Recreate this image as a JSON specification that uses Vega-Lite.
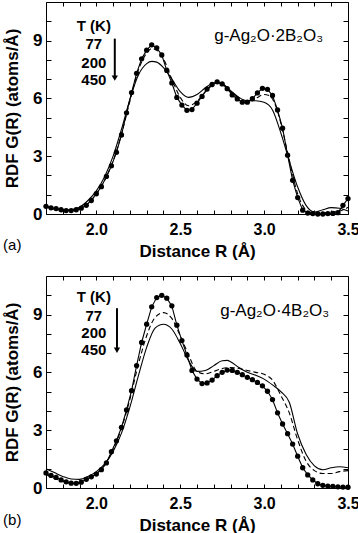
{
"$schema":"https://vega.github.io/schema/vega-lite/v6.json",
"padding":{"left":2,"top":1,"right":0,"bottom":0},
"spacing":62,
"bounds":"flush",
"config":{"view":{"stroke":"black","strokeWidth":1},"axis":{"domain":false,"grid":false,"tickColor":"black","labelColor":"black","titleColor":"black","labelFont":"Liberation Sans","titleFont":"Liberation Sans"},"text":{"font":"Liberation Sans","color":"black"}},
"datasets":{
"curves":[
{"p":"a","T":"77","R":1.70,"G":0.40},{"p":"a","T":"77","R":1.73,"G":0.32},{"p":"a","T":"77","R":1.76,"G":0.28},{"p":"a","T":"77","R":1.79,"G":0.22},{"p":"a","T":"77","R":1.82,"G":0.18},{"p":"a","T":"77","R":1.85,"G":0.18},{"p":"a","T":"77","R":1.88,"G":0.22},{"p":"a","T":"77","R":1.91,"G":0.30},{"p":"a","T":"77","R":1.94,"G":0.45},{"p":"a","T":"77","R":1.97,"G":0.70},{"p":"a","T":"77","R":2.00,"G":1.05},{"p":"a","T":"77","R":2.03,"G":1.42},{"p":"a","T":"77","R":2.06,"G":1.95},{"p":"a","T":"77","R":2.09,"G":2.50},{"p":"a","T":"77","R":2.12,"G":3.20},{"p":"a","T":"77","R":2.15,"G":4.10},{"p":"a","T":"77","R":2.18,"G":5.25},{"p":"a","T":"77","R":2.21,"G":6.30},{"p":"a","T":"77","R":2.24,"G":7.30},{"p":"a","T":"77","R":2.27,"G":8.05},{"p":"a","T":"77","R":2.30,"G":8.50},{"p":"a","T":"77","R":2.33,"G":8.78},{"p":"a","T":"77","R":2.36,"G":8.62},{"p":"a","T":"77","R":2.39,"G":8.25},{"p":"a","T":"77","R":2.42,"G":7.45},{"p":"a","T":"77","R":2.45,"G":6.80},{"p":"a","T":"77","R":2.48,"G":6.05},{"p":"a","T":"77","R":2.51,"G":5.65},{"p":"a","T":"77","R":2.54,"G":5.38},{"p":"a","T":"77","R":2.57,"G":5.42},{"p":"a","T":"77","R":2.60,"G":5.75},{"p":"a","T":"77","R":2.63,"G":6.10},{"p":"a","T":"77","R":2.66,"G":6.48},{"p":"a","T":"77","R":2.69,"G":6.72},{"p":"a","T":"77","R":2.72,"G":6.86},{"p":"a","T":"77","R":2.75,"G":6.75},{"p":"a","T":"77","R":2.78,"G":6.50},{"p":"a","T":"77","R":2.81,"G":6.18},{"p":"a","T":"77","R":2.84,"G":5.97},{"p":"a","T":"77","R":2.87,"G":5.80},{"p":"a","T":"77","R":2.90,"G":5.80},{"p":"a","T":"77","R":2.93,"G":5.98},{"p":"a","T":"77","R":2.96,"G":6.28},{"p":"a","T":"77","R":2.99,"G":6.52},{"p":"a","T":"77","R":3.02,"G":6.47},{"p":"a","T":"77","R":3.05,"G":6.15},{"p":"a","T":"77","R":3.08,"G":5.40},{"p":"a","T":"77","R":3.11,"G":4.45},{"p":"a","T":"77","R":3.14,"G":3.05},{"p":"a","T":"77","R":3.17,"G":1.75},{"p":"a","T":"77","R":3.20,"G":0.85},{"p":"a","T":"77","R":3.23,"G":0.20},{"p":"a","T":"77","R":3.26,"G":0.05},{"p":"a","T":"77","R":3.29,"G":0.02},{"p":"a","T":"77","R":3.32,"G":0.00},{"p":"a","T":"77","R":3.35,"G":0.00},{"p":"a","T":"77","R":3.38,"G":0.02},{"p":"a","T":"77","R":3.41,"G":0.03},{"p":"a","T":"77","R":3.44,"G":0.07},{"p":"a","T":"77","R":3.47,"G":0.45},{"p":"a","T":"77","R":3.50,"G":0.80},
{"p":"a","T":"200","R":1.70,"G":0.38},{"p":"a","T":"200","R":1.75,"G":0.30},{"p":"a","T":"200","R":1.80,"G":0.22},{"p":"a","T":"200","R":1.85,"G":0.20},{"p":"a","T":"200","R":1.90,"G":0.28},{"p":"a","T":"200","R":1.95,"G":0.55},{"p":"a","T":"200","R":2.00,"G":1.05},{"p":"a","T":"200","R":2.05,"G":1.75},{"p":"a","T":"200","R":2.10,"G":2.75},{"p":"a","T":"200","R":2.15,"G":4.15},{"p":"a","T":"200","R":2.20,"G":5.85},{"p":"a","T":"200","R":2.25,"G":7.45},{"p":"a","T":"200","R":2.30,"G":8.35},{"p":"a","T":"200","R":2.33,"G":8.58},{"p":"a","T":"200","R":2.36,"G":8.50},{"p":"a","T":"200","R":2.40,"G":8.05},{"p":"a","T":"200","R":2.45,"G":7.00},{"p":"a","T":"200","R":2.50,"G":6.05},{"p":"a","T":"200","R":2.55,"G":5.62},{"p":"a","T":"200","R":2.60,"G":5.85},{"p":"a","T":"200","R":2.65,"G":6.35},{"p":"a","T":"200","R":2.70,"G":6.72},{"p":"a","T":"200","R":2.73,"G":6.80},{"p":"a","T":"200","R":2.76,"G":6.70},{"p":"a","T":"200","R":2.80,"G":6.35},{"p":"a","T":"200","R":2.85,"G":6.00},{"p":"a","T":"200","R":2.90,"G":5.85},{"p":"a","T":"200","R":2.95,"G":6.00},{"p":"a","T":"200","R":3.00,"G":6.20},{"p":"a","T":"200","R":3.03,"G":6.15},{"p":"a","T":"200","R":3.06,"G":5.80},{"p":"a","T":"200","R":3.10,"G":4.70},{"p":"a","T":"200","R":3.15,"G":2.80},{"p":"a","T":"200","R":3.20,"G":1.05},{"p":"a","T":"200","R":3.25,"G":0.22},{"p":"a","T":"200","R":3.30,"G":0.05},{"p":"a","T":"200","R":3.35,"G":0.05},{"p":"a","T":"200","R":3.40,"G":0.12},{"p":"a","T":"200","R":3.45,"G":0.15},{"p":"a","T":"200","R":3.50,"G":0.35},
{"p":"a","T":"450","R":1.70,"G":0.35},{"p":"a","T":"450","R":1.75,"G":0.25},{"p":"a","T":"450","R":1.80,"G":0.20},{"p":"a","T":"450","R":1.85,"G":0.22},{"p":"a","T":"450","R":1.90,"G":0.35},{"p":"a","T":"450","R":1.95,"G":0.70},{"p":"a","T":"450","R":2.00,"G":1.20},{"p":"a","T":"450","R":2.05,"G":1.95},{"p":"a","T":"450","R":2.10,"G":3.00},{"p":"a","T":"450","R":2.15,"G":4.40},{"p":"a","T":"450","R":2.20,"G":5.95},{"p":"a","T":"450","R":2.25,"G":7.20},{"p":"a","T":"450","R":2.30,"G":7.80},{"p":"a","T":"450","R":2.33,"G":7.92},{"p":"a","T":"450","R":2.36,"G":7.88},{"p":"a","T":"450","R":2.40,"G":7.60},{"p":"a","T":"450","R":2.45,"G":7.00},{"p":"a","T":"450","R":2.50,"G":6.35},{"p":"a","T":"450","R":2.55,"G":6.05},{"p":"a","T":"450","R":2.60,"G":6.20},{"p":"a","T":"450","R":2.65,"G":6.55},{"p":"a","T":"450","R":2.70,"G":6.80},{"p":"a","T":"450","R":2.73,"G":6.82},{"p":"a","T":"450","R":2.76,"G":6.72},{"p":"a","T":"450","R":2.80,"G":6.40},{"p":"a","T":"450","R":2.85,"G":6.05},{"p":"a","T":"450","R":2.90,"G":5.88},{"p":"a","T":"450","R":2.95,"G":5.88},{"p":"a","T":"450","R":3.00,"G":5.80},{"p":"a","T":"450","R":3.05,"G":5.40},{"p":"a","T":"450","R":3.10,"G":4.20},{"p":"a","T":"450","R":3.15,"G":2.75},{"p":"a","T":"450","R":3.20,"G":1.40},{"p":"a","T":"450","R":3.25,"G":0.45},{"p":"a","T":"450","R":3.30,"G":0.10},{"p":"a","T":"450","R":3.35,"G":0.22},{"p":"a","T":"450","R":3.40,"G":0.33},{"p":"a","T":"450","R":3.45,"G":0.30},{"p":"a","T":"450","R":3.50,"G":0.15},
{"p":"b","T":"77","R":1.70,"G":0.78},{"p":"b","T":"77","R":1.73,"G":0.65},{"p":"b","T":"77","R":1.76,"G":0.55},{"p":"b","T":"77","R":1.79,"G":0.42},{"p":"b","T":"77","R":1.82,"G":0.32},{"p":"b","T":"77","R":1.85,"G":0.25},{"p":"b","T":"77","R":1.88,"G":0.24},{"p":"b","T":"77","R":1.91,"G":0.30},{"p":"b","T":"77","R":1.94,"G":0.45},{"p":"b","T":"77","R":1.97,"G":0.58},{"p":"b","T":"77","R":2.00,"G":0.72},{"p":"b","T":"77","R":2.03,"G":0.95},{"p":"b","T":"77","R":2.06,"G":1.30},{"p":"b","T":"77","R":2.09,"G":1.88},{"p":"b","T":"77","R":2.12,"G":2.45},{"p":"b","T":"77","R":2.15,"G":3.15},{"p":"b","T":"77","R":2.18,"G":4.05},{"p":"b","T":"77","R":2.21,"G":5.05},{"p":"b","T":"77","R":2.24,"G":6.35},{"p":"b","T":"77","R":2.27,"G":7.55},{"p":"b","T":"77","R":2.30,"G":8.50},{"p":"b","T":"77","R":2.33,"G":9.40},{"p":"b","T":"77","R":2.36,"G":9.88},{"p":"b","T":"77","R":2.39,"G":10.00},{"p":"b","T":"77","R":2.42,"G":9.85},{"p":"b","T":"77","R":2.45,"G":9.45},{"p":"b","T":"77","R":2.48,"G":8.45},{"p":"b","T":"77","R":2.51,"G":7.65},{"p":"b","T":"77","R":2.54,"G":6.90},{"p":"b","T":"77","R":2.57,"G":6.10},{"p":"b","T":"77","R":2.60,"G":5.65},{"p":"b","T":"77","R":2.63,"G":5.42},{"p":"b","T":"77","R":2.66,"G":5.45},{"p":"b","T":"77","R":2.69,"G":5.60},{"p":"b","T":"77","R":2.72,"G":5.83},{"p":"b","T":"77","R":2.75,"G":6.00},{"p":"b","T":"77","R":2.78,"G":6.12},{"p":"b","T":"77","R":2.81,"G":6.10},{"p":"b","T":"77","R":2.84,"G":6.00},{"p":"b","T":"77","R":2.87,"G":5.88},{"p":"b","T":"77","R":2.90,"G":5.74},{"p":"b","T":"77","R":2.93,"G":5.62},{"p":"b","T":"77","R":2.96,"G":5.48},{"p":"b","T":"77","R":2.99,"G":5.30},{"p":"b","T":"77","R":3.02,"G":5.02},{"p":"b","T":"77","R":3.05,"G":4.59},{"p":"b","T":"77","R":3.08,"G":3.90},{"p":"b","T":"77","R":3.11,"G":3.32},{"p":"b","T":"77","R":3.14,"G":2.82},{"p":"b","T":"77","R":3.17,"G":2.28},{"p":"b","T":"77","R":3.20,"G":1.65},{"p":"b","T":"77","R":3.23,"G":1.05},{"p":"b","T":"77","R":3.26,"G":0.68},{"p":"b","T":"77","R":3.29,"G":0.42},{"p":"b","T":"77","R":3.32,"G":0.22},{"p":"b","T":"77","R":3.35,"G":0.14},{"p":"b","T":"77","R":3.38,"G":0.10},{"p":"b","T":"77","R":3.41,"G":0.08},{"p":"b","T":"77","R":3.44,"G":0.06},{"p":"b","T":"77","R":3.47,"G":0.05},{"p":"b","T":"77","R":3.50,"G":0.04},
{"p":"b","T":"200","R":1.70,"G":0.70},{"p":"b","T":"200","R":1.75,"G":0.50},{"p":"b","T":"200","R":1.80,"G":0.35},{"p":"b","T":"200","R":1.85,"G":0.25},{"p":"b","T":"200","R":1.90,"G":0.30},{"p":"b","T":"200","R":1.95,"G":0.50},{"p":"b","T":"200","R":2.00,"G":0.75},{"p":"b","T":"200","R":2.05,"G":1.20},{"p":"b","T":"200","R":2.10,"G":2.00},{"p":"b","T":"200","R":2.15,"G":3.10},{"p":"b","T":"200","R":2.20,"G":4.60},{"p":"b","T":"200","R":2.25,"G":6.40},{"p":"b","T":"200","R":2.30,"G":7.90},{"p":"b","T":"200","R":2.35,"G":8.85},{"p":"b","T":"200","R":2.40,"G":9.10},{"p":"b","T":"200","R":2.45,"G":8.80},{"p":"b","T":"200","R":2.50,"G":7.90},{"p":"b","T":"200","R":2.55,"G":6.90},{"p":"b","T":"200","R":2.60,"G":6.05},{"p":"b","T":"200","R":2.65,"G":5.92},{"p":"b","T":"200","R":2.70,"G":6.05},{"p":"b","T":"200","R":2.75,"G":6.20},{"p":"b","T":"200","R":2.80,"G":6.25},{"p":"b","T":"200","R":2.85,"G":6.20},{"p":"b","T":"200","R":2.90,"G":6.10},{"p":"b","T":"200","R":2.95,"G":6.00},{"p":"b","T":"200","R":3.00,"G":5.90},{"p":"b","T":"200","R":3.05,"G":5.60},{"p":"b","T":"200","R":3.10,"G":4.80},{"p":"b","T":"200","R":3.15,"G":3.90},{"p":"b","T":"200","R":3.20,"G":2.50},{"p":"b","T":"200","R":3.25,"G":1.40},{"p":"b","T":"200","R":3.30,"G":0.90},{"p":"b","T":"200","R":3.35,"G":0.75},{"p":"b","T":"200","R":3.40,"G":0.75},{"p":"b","T":"200","R":3.45,"G":0.85},{"p":"b","T":"200","R":3.50,"G":0.90},
{"p":"b","T":"450","R":1.70,"G":1.00},{"p":"b","T":"450","R":1.75,"G":0.80},{"p":"b","T":"450","R":1.80,"G":0.60},{"p":"b","T":"450","R":1.85,"G":0.47},{"p":"b","T":"450","R":1.90,"G":0.45},{"p":"b","T":"450","R":1.95,"G":0.60},{"p":"b","T":"450","R":2.00,"G":0.85},{"p":"b","T":"450","R":2.05,"G":1.25},{"p":"b","T":"450","R":2.10,"G":1.90},{"p":"b","T":"450","R":2.15,"G":2.85},{"p":"b","T":"450","R":2.20,"G":4.20},{"p":"b","T":"450","R":2.25,"G":5.80},{"p":"b","T":"450","R":2.30,"G":7.30},{"p":"b","T":"450","R":2.35,"G":8.30},{"p":"b","T":"450","R":2.40,"G":8.50},{"p":"b","T":"450","R":2.45,"G":8.25},{"p":"b","T":"450","R":2.50,"G":7.50},{"p":"b","T":"450","R":2.55,"G":6.60},{"p":"b","T":"450","R":2.60,"G":6.05},{"p":"b","T":"450","R":2.65,"G":6.10},{"p":"b","T":"450","R":2.70,"G":6.35},{"p":"b","T":"450","R":2.75,"G":6.60},{"p":"b","T":"450","R":2.78,"G":6.62},{"p":"b","T":"450","R":2.80,"G":6.55},{"p":"b","T":"450","R":2.85,"G":6.25},{"p":"b","T":"450","R":2.90,"G":6.00},{"p":"b","T":"450","R":2.95,"G":5.85},{"p":"b","T":"450","R":3.00,"G":5.65},{"p":"b","T":"450","R":3.05,"G":5.35},{"p":"b","T":"450","R":3.10,"G":5.00},{"p":"b","T":"450","R":3.15,"G":4.45},{"p":"b","T":"450","R":3.20,"G":2.80},{"p":"b","T":"450","R":3.25,"G":1.75},{"p":"b","T":"450","R":3.30,"G":1.15},{"p":"b","T":"450","R":3.35,"G":0.95},{"p":"b","T":"450","R":3.40,"G":1.05},{"p":"b","T":"450","R":3.45,"G":1.10},{"p":"b","T":"450","R":3.50,"G":1.05}
],
"labels":[
{"p":"a","k":"leg","R":1.985,"G":9.78,"t":"T (K)"},{"p":"a","k":"leg","R":1.985,"G":8.8,"t":"77"},{"p":"a","k":"leg","R":1.985,"G":7.86,"t":"200"},{"p":"a","k":"leg","R":1.985,"G":6.93,"t":"450"},
{"p":"a","k":"cmp","R":3.027,"G":9.26,"t":"g-Ag₂O·2B₂O₃"},
{"p":"a","k":"pan","R":1.444,"G":-1.6,"t":"(a)"},
{"p":"b","k":"leg","R":1.985,"G":9.9,"t":"T (K)"},{"p":"b","k":"leg","R":1.985,"G":8.93,"t":"77"},{"p":"b","k":"leg","R":1.985,"G":8.03,"t":"200"},{"p":"b","k":"leg","R":1.985,"G":7.17,"t":"450"},
{"p":"b","k":"cmp","R":3.063,"G":9.16,"t":"g-Ag₂O·4B₂O₃"},
{"p":"b","k":"pan","R":1.444,"G":-1.66,"t":"(b)"}
],
"arrows":[{"p":"a","R":2.11,"G":9.1,"G2":7.1},{"p":"b","R":2.123,"G":9.33,"G2":7.2}],
"heads":[{"p":"a","R":2.11,"G":7.05},{"p":"b","R":2.123,"G":7.15}]
},
"vconcat":[
{"width":302,"height":212,
 "encoding":{"x":{"field":"R","type":"quantitative","scale":{"domain":[1.7,3.5],"nice":false,"zero":false},"axis":null},
             "y":{"field":"G","type":"quantitative","scale":{"domain":[0,11],"nice":false,"zero":false},"axis":null}},
 "layer":[
  {"data":{"name":"curves"},"transform":[{"filter":"datum.p=='a' && datum.T=='450'"}],
   "mark":{"type":"line","color":"black","strokeWidth":1.1,"interpolate":"monotone"},
   "encoding":{"x":{"field":"R","type":"quantitative","scale":{"domain":[1.7,3.5],"nice":false,"zero":false},
      "axis":{"orient":"bottom","title":"Distance R (Å)","values":[1.7,1.8,1.9,2.0,2.1,2.2,2.3,2.4,2.5,2.6,2.7,2.8,2.9,3.0,3.1,3.2,3.3,3.4,3.5],"format":".1f","labelExpr":"(datum.label=='2.0'||datum.label=='2.5'||datum.label=='3.0'||datum.label=='3.5') ? datum.label : ''","labelOverlap":false,"labelFlush":false,"tickSize":-4,"labelPadding":11,"labelFontSize":16,"labelFontWeight":"bold","titleFontSize":17,"titleFontWeight":"bold","titlePadding":6}},
     "y":{"field":"G","type":"quantitative","scale":{"domain":[0,11],"nice":false,"zero":false},
      "axis":{"orient":"left","title":"RDF G(R) (atoms/Å)","values":[0,1,2,3,4,5,6,7,8,9,10],"labelExpr":"datum.value % 3 == 0 ? datum.label : ''","labelOverlap":false,"labelFlush":false,"tickSize":-5,"labelPadding":9,"labelFontSize":17,"labelFontWeight":"bold","titleFontSize":17,"titleFontWeight":"bold","titlePadding":11}}}},
  {"data":{"name":"curves"},"transform":[{"filter":"datum.p=='a' && datum.T=='200'"}],
   "mark":{"type":"line","color":"black","strokeWidth":1.1,"strokeDash":[5,3],"interpolate":"monotone"}},
  {"data":{"name":"curves"},"transform":[{"filter":"datum.p=='a' && datum.T=='77'"}],
   "mark":{"type":"line","color":"black","strokeWidth":1.1}},
  {"data":{"name":"curves"},"transform":[{"filter":"datum.p=='a' && datum.T=='77'"}],
   "mark":{"type":"point","filled":true,"color":"black","opacity":1,"size":28},
   "encoding":{"x":{"field":"R","type":"quantitative","scale":{"domain":[1.7,3.5],"nice":false,"zero":false},
      "axis":{"orient":"top","title":null,"labels":false,"values":[1.7,1.8,1.9,2.0,2.1,2.2,2.3,2.4,2.5,2.6,2.7,2.8,2.9,3.0,3.1,3.2,3.3,3.4,3.5],"tickSize":-4}},
     "y":{"field":"G","type":"quantitative","scale":{"domain":[0,11],"nice":false,"zero":false},
      "axis":{"orient":"right","title":null,"labels":false,"values":[0,1,2,3,4,5,6,7,8,9,10],"tickSize":-5}}}},
  {"data":{"name":"labels"},"transform":[{"filter":"datum.p=='a' && datum.k=='leg'"}],
   "mark":{"type":"text","fontSize":15,"fontWeight":"bold","align":"center","baseline":"middle"},"encoding":{"text":{"field":"t"}}},
  {"data":{"name":"labels"},"transform":[{"filter":"datum.p=='a' && datum.k=='cmp'"}],
   "mark":{"type":"text","fontSize":17,"align":"center","baseline":"middle"},"encoding":{"text":{"field":"t"}}},
  {"data":{"name":"labels"},"transform":[{"filter":"datum.p=='a' && datum.k=='pan'"}],
   "mark":{"type":"text","fontSize":15,"align":"left","baseline":"middle"},"encoding":{"text":{"field":"t"}}},
  {"data":{"name":"arrows"},"transform":[{"filter":"datum.p=='a'"}],
   "mark":{"type":"rule","color":"black","strokeWidth":2},"encoding":{"y2":{"field":"G2"}}},
  {"data":{"name":"heads"},"transform":[{"filter":"datum.p=='a'"}],
   "mark":{"type":"point","shape":"triangle-down","filled":true,"color":"black","opacity":1,"size":40}}
 ],
 "resolve":{"axis":{"x":"independent","y":"independent"}}
},
{"width":302,"height":212,
 "encoding":{"x":{"field":"R","type":"quantitative","scale":{"domain":[1.7,3.5],"nice":false,"zero":false},"axis":null},
             "y":{"field":"G","type":"quantitative","scale":{"domain":[0,11],"nice":false,"zero":false},"axis":null}},
 "layer":[
  {"data":{"name":"curves"},"transform":[{"filter":"datum.p=='b' && datum.T=='450'"}],
   "mark":{"type":"line","color":"black","strokeWidth":1.1,"interpolate":"monotone"},
   "encoding":{"x":{"field":"R","type":"quantitative","scale":{"domain":[1.7,3.5],"nice":false,"zero":false},
      "axis":{"orient":"bottom","title":"Distance R (Å)","values":[1.7,1.8,1.9,2.0,2.1,2.2,2.3,2.4,2.5,2.6,2.7,2.8,2.9,3.0,3.1,3.2,3.3,3.4,3.5],"format":".1f","labelExpr":"(datum.label=='2.0'||datum.label=='2.5'||datum.label=='3.0'||datum.label=='3.5') ? datum.label : ''","labelOverlap":false,"labelFlush":false,"tickSize":-4,"labelPadding":11,"labelFontSize":16,"labelFontWeight":"bold","titleFontSize":17,"titleFontWeight":"bold","titlePadding":6}},
     "y":{"field":"G","type":"quantitative","scale":{"domain":[0,11],"nice":false,"zero":false},
      "axis":{"orient":"left","title":"RDF G(R) (atoms/Å)","values":[0,1,2,3,4,5,6,7,8,9,10],"labelExpr":"datum.value % 3 == 0 ? datum.label : ''","labelOverlap":false,"labelFlush":false,"tickSize":-5,"labelPadding":9,"labelFontSize":17,"labelFontWeight":"bold","titleFontSize":17,"titleFontWeight":"bold","titlePadding":11}}}},
  {"data":{"name":"curves"},"transform":[{"filter":"datum.p=='b' && datum.T=='200'"}],
   "mark":{"type":"line","color":"black","strokeWidth":1.1,"strokeDash":[5,3],"interpolate":"monotone"}},
  {"data":{"name":"curves"},"transform":[{"filter":"datum.p=='b' && datum.T=='77'"}],
   "mark":{"type":"line","color":"black","strokeWidth":1.1}},
  {"data":{"name":"curves"},"transform":[{"filter":"datum.p=='b' && datum.T=='77'"}],
   "mark":{"type":"point","filled":true,"color":"black","opacity":1,"size":28},
   "encoding":{"x":{"field":"R","type":"quantitative","scale":{"domain":[1.7,3.5],"nice":false,"zero":false},
      "axis":{"orient":"top","title":null,"labels":false,"values":[1.7,1.8,1.9,2.0,2.1,2.2,2.3,2.4,2.5,2.6,2.7,2.8,2.9,3.0,3.1,3.2,3.3,3.4,3.5],"tickSize":-4}},
     "y":{"field":"G","type":"quantitative","scale":{"domain":[0,11],"nice":false,"zero":false},
      "axis":{"orient":"right","title":null,"labels":false,"values":[0,1,2,3,4,5,6,7,8,9,10],"tickSize":-5}}}},
  {"data":{"name":"labels"},"transform":[{"filter":"datum.p=='b' && datum.k=='leg'"}],
   "mark":{"type":"text","fontSize":15,"fontWeight":"bold","align":"center","baseline":"middle"},"encoding":{"text":{"field":"t"}}},
  {"data":{"name":"labels"},"transform":[{"filter":"datum.p=='b' && datum.k=='cmp'"}],
   "mark":{"type":"text","fontSize":17,"align":"center","baseline":"middle"},"encoding":{"text":{"field":"t"}}},
  {"data":{"name":"labels"},"transform":[{"filter":"datum.p=='b' && datum.k=='pan'"}],
   "mark":{"type":"text","fontSize":15,"align":"left","baseline":"middle"},"encoding":{"text":{"field":"t"}}},
  {"data":{"name":"arrows"},"transform":[{"filter":"datum.p=='b'"}],
   "mark":{"type":"rule","color":"black","strokeWidth":2},"encoding":{"y2":{"field":"G2"}}},
  {"data":{"name":"heads"},"transform":[{"filter":"datum.p=='b'"}],
   "mark":{"type":"point","shape":"triangle-down","filled":true,"color":"black","opacity":1,"size":40}}
 ],
 "resolve":{"axis":{"x":"independent","y":"independent"}}
}
]
}
